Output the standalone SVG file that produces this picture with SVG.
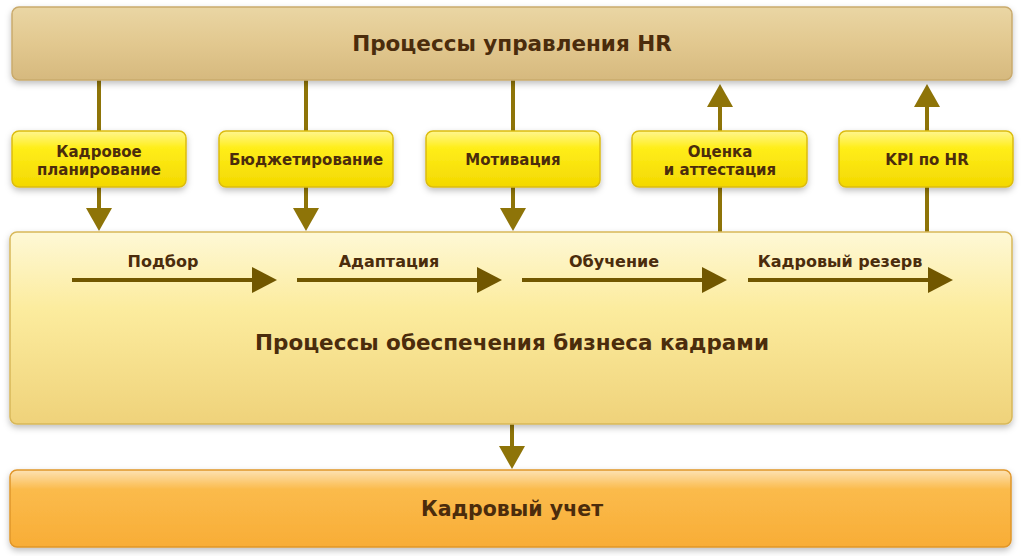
<svg xmlns="http://www.w3.org/2000/svg" width="1024" height="556" viewBox="0 0 1024 556">
<defs>
<linearGradient id="gTop" x1="0" y1="0" x2="0" y2="1"><stop offset="0" stop-color="#ead6a4"/><stop offset="0.5" stop-color="#e2c88f"/><stop offset="1" stop-color="#d6b97e"/></linearGradient>
<linearGradient id="gYel" x1="0" y1="0" x2="0" y2="1"><stop offset="0" stop-color="#fff690"/><stop offset="0.3" stop-color="#ffee1a"/><stop offset="1" stop-color="#f3d800"/></linearGradient>
<linearGradient id="gMid" x1="0" y1="0" x2="0" y2="1"><stop offset="0" stop-color="#fef8d6"/><stop offset="0.4" stop-color="#fcec9e"/><stop offset="1" stop-color="#efd27a"/></linearGradient>
<linearGradient id="gBot" x1="0" y1="0" x2="0" y2="1"><stop offset="0" stop-color="#fde2b4"/><stop offset="0.25" stop-color="#fbbb4c"/><stop offset="1" stop-color="#f8ad36"/></linearGradient>
<filter id="sh" x="-5%" y="-20%" width="110%" height="150%"><feDropShadow dx="0" dy="3" stdDeviation="3" flood-color="#000" flood-opacity="0.25"/></filter>
</defs>
<style>
.t{font-family:"DejaVu Sans","Liberation Sans",sans-serif;font-weight:bold;fill:#4b2c0c;text-anchor:middle}
.big{font-size:21.5px}
.bt{font-size:20.5px}
.sm{font-size:15px}
.hl{font-size:16px}
.v{stroke:#8e7408;stroke-width:4;fill:none}
.vh{fill:#8e7408}
.h{stroke:#715700;stroke-width:4;fill:none}
.hh{fill:#715700}
</style>
<g id="connectors">
<line class="v" x1="99" y1="80" x2="99" y2="131"/><line class="v" x1="99" y1="187" x2="99" y2="212"/><polygon class="vh" points="86,208 112,208 99,231"/>
<line class="v" x1="306" y1="80" x2="306" y2="131"/><line class="v" x1="306" y1="187" x2="306" y2="212"/><polygon class="vh" points="293,208 319,208 306,231"/>
<line class="v" x1="513" y1="80" x2="513" y2="131"/><line class="v" x1="513" y1="187" x2="513" y2="212"/><polygon class="vh" points="500,208 526,208 513,231"/>
<line class="v" x1="720" y1="232" x2="720" y2="187"/><line class="v" x1="720" y1="131" x2="720" y2="103"/><polygon class="vh" points="707,107 733,107 720,84"/>
<line class="v" x1="927" y1="232" x2="927" y2="187"/><line class="v" x1="927" y1="131" x2="927" y2="103"/><polygon class="vh" points="914,107 940,107 927,84"/>
<line class="v" x1="512" y1="424" x2="512" y2="450"/><polygon class="vh" points="499,446 525,446 512,469"/>
</g>
<g id="top"><rect x="12" y="7" width="1000" height="73" rx="7" fill="url(#gTop)" stroke="#c9aa6c" stroke-width="1.5" filter="url(#sh)"/><text class="t big" x="512" y="51">Процессы управления HR</text></g>
<g id="mid"><rect x="10" y="232" width="1002" height="192" rx="7" fill="url(#gMid)" stroke="#d8b85a" stroke-width="1.5" filter="url(#sh)"/><text class="t big" x="512" y="350">Процессы обеспечения бизнеса кадрами</text></g>
<g id="bot"><rect x="10" y="470" width="1001" height="77" rx="7" fill="url(#gBot)" stroke="#e0962a" stroke-width="1.5" filter="url(#sh)"/><text class="t bt" x="512" y="516" fill="#4b2508">Кадровый учет</text></g>
<g id="n1"><rect x="12" y="131" width="174" height="56" rx="7" fill="url(#gYel)" stroke="#dcbc10" stroke-width="1.5" filter="url(#sh)"/><text class="t sm" x="99" y="157">Кадровое</text><text class="t sm" x="99" y="175">планирование</text></g>
<g id="n2"><rect x="219" y="131" width="174" height="56" rx="7" fill="url(#gYel)" stroke="#dcbc10" stroke-width="1.5" filter="url(#sh)"/><text class="t sm" x="306" y="165">Бюджетирование</text></g>
<g id="n3"><rect x="426" y="131" width="174" height="56" rx="7" fill="url(#gYel)" stroke="#dcbc10" stroke-width="1.5" filter="url(#sh)"/><text class="t sm" x="513" y="165">Мотивация</text></g>
<g id="n4"><rect x="632" y="131" width="175" height="56" rx="7" fill="url(#gYel)" stroke="#dcbc10" stroke-width="1.5" filter="url(#sh)"/><text class="t sm" x="720" y="157">Оценка</text><text class="t sm" x="720" y="175">и аттестация</text></g>
<g id="n5"><rect x="839" y="131" width="174" height="56" rx="7" fill="url(#gYel)" stroke="#dcbc10" stroke-width="1.5" filter="url(#sh)"/><text class="t sm" x="927" y="165">KPI по HR</text></g>
<g id="flow">
<line class="h" x1="72" y1="280" x2="255" y2="280"/><polygon class="hh" points="252,267 252,293 277,280"/><text class="t hl" x="163" y="267">Подбор</text>
<line class="h" x1="297" y1="280" x2="480" y2="280"/><polygon class="hh" points="477,267 477,293 502,280"/><text class="t hl" x="389" y="267">Адаптация</text>
<line class="h" x1="522" y1="280" x2="705" y2="280"/><polygon class="hh" points="702,267 702,293 727,280"/><text class="t hl" x="614" y="267">Обучение</text>
<line class="h" x1="748" y1="280" x2="931" y2="280"/><polygon class="hh" points="928,267 928,293 953,280"/><text class="t hl" x="840" y="267">Кадровый резерв</text>
</g>
</svg>
